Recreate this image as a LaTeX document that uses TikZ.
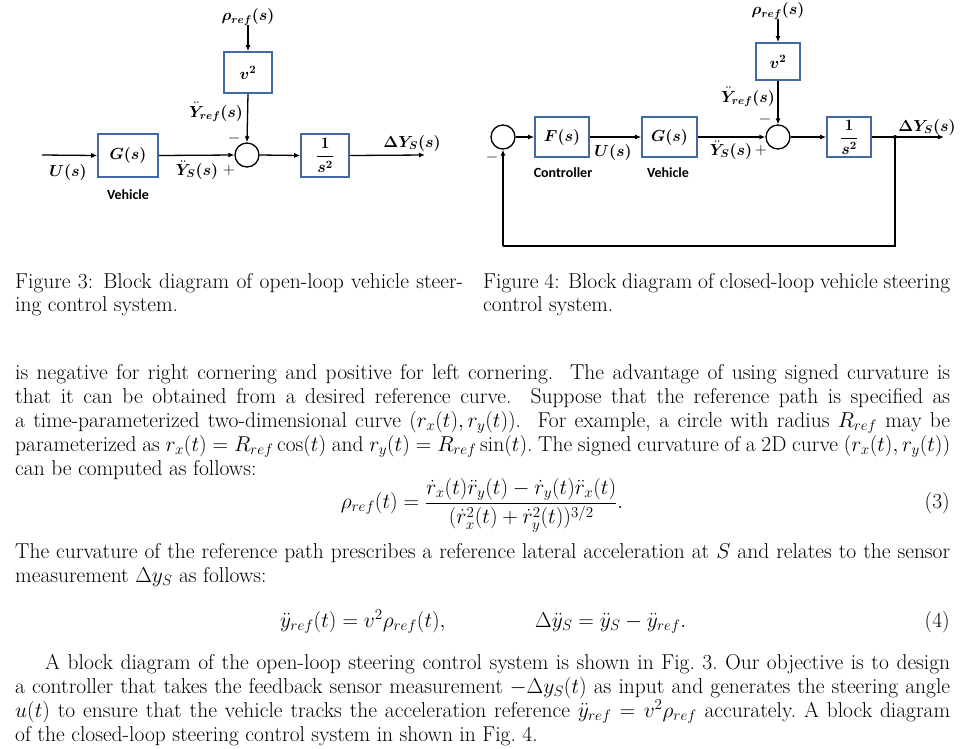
\RequirePackage{fix-cm}
\documentclass[tikz,border=0pt]{standalone}
\usepackage{amsmath,bm}
\usepackage{fontspec}
\newfontfamily\calib{Carlito}
\usetikzlibrary{arrows.meta}
\definecolor{boxblue}{RGB}{68,106,166}
\tikzset{
  blk/.style={draw=boxblue, line width=1.6pt, fill=white, inner sep=0pt, font=\fontsize{16}{18}\selectfont},
  sumc/.style={circle, draw, line width=1.3pt, minimum size=24pt, inner sep=0pt},
  sig/.style={line width=1.3pt, -{Latex[length=6pt,width=5pt]}},
  wire/.style={line width=1.3pt},
  lab/.style={inner sep=0pt, font=\fontsize{16}{18}\selectfont},
  sans/.style={inner sep=0pt, font=\calib\bfseries\fontsize{14}{16}\selectfont},
  txt/.style={anchor=base west, inner sep=0pt, font=\fontsize{21.5}{24}\selectfont},
}
\newcommand{\jl}[1]{\makebox[935pt][s]{#1}}
\begin{document}
\begin{tikzpicture}[x=1pt,y=-1pt]
\useasboundingbox (0,0) rectangle (978,748);
% ---------- left diagram
\node[blk, minimum width=60pt, minimum height=43pt] (G1) at (128,155.5) {$\bm{G(s)}$};
\node[sumc] (S1) at (247,155) {};
\node[blk, minimum width=48pt, minimum height=41pt] (V1) at (248,72.5) {$\bm{v^2}$};
\node[blk, minimum width=48pt, minimum height=43pt] (I1) at (325,155.5) {$\bm{\dfrac{1}{s^2}}$};
\node[lab] (r1) at (248,17) {$\bm{\rho_{ref}(s)}$};
\coordinate (u1) at (42,155);
\coordinate (o1) at (425,155);
\draw[sig] (u1) -- (G1.west);
\draw[sig] (G1.east) -- (S1.west);
\draw[sig] (r1.south) -- (V1.north);
\draw[sig] (V1.south) -- (S1.north);
\draw[sig] (S1.east) -- (I1.west);
\draw[sig] (I1.east) -- (o1);
\node[lab] at (68,172) {$\bm{U(s)}$};
\node[sans] at (128,195) {Vehicle};
\node[lab] at (197,170) {$\bm{\ddot Y_S(s)}$};
\node[lab] at (229,170) {$+$};
\node[lab] at (216,112) {$\bm{\ddot Y_{ref}(s)}$};
\node[lab] at (234,138) {$-$};
\node[lab] at (412,143) {$\bm{\Delta Y_S(s)}$};
% ---------- right diagram
\node[sumc] (S2) at (503,137) {};
\node[blk, minimum width=54pt, minimum height=40pt] (F2) at (562,137) {$\bm{F(s)}$};
\node[blk, minimum width=55pt, minimum height=40pt] (G2) at (669.5,137) {$\bm{G(s)}$};
\node[sumc] (S3) at (778,137) {};
\node[blk, minimum width=44pt, minimum height=37pt] (V2) at (778,61.5) {$\bm{v^2}$};
\node[blk, minimum width=44pt, minimum height=40pt] (I2) at (849,137) {$\bm{\dfrac{1}{s^2}}$};
\node[lab] (r2) at (778,11) {$\bm{\rho_{ref}(s)}$};
\coordinate (b2) at (895,137);
\coordinate (o2) at (944,137);
\coordinate (d2) at (895,246);
\coordinate (e2) at (503,246);
\draw[sig] (S2.east) -- (F2.west);
\draw[sig] (F2.east) -- (G2.west);
\draw[sig] (G2.east) -- (S3.west);
\draw[sig] (r2.south) -- (V2.north);
\draw[sig] (V2.south) -- (S3.north);
\draw[sig] (S3.east) -- (I2.west);
\draw[sig] (I2.east) -- (o2);
\fill (b2) circle (2pt);
\draw[wire] (b2) -- (d2) -- (e2);
\draw[sig] (e2) -- (S2.south);
\node[lab] at (492,157) {$-$};
\node[lab] at (613,152) {$\bm{U(s)}$};
\node[sans] at (563,173) {Controller};
\node[sans] at (668,173) {Vehicle};
\node[lab] at (731,150) {$\bm{\ddot Y_S(s)}$};
\node[lab] at (761,150) {$+$};
\node[lab] at (748,97) {$\bm{\ddot Y_{ref}(s)}$};
\node[lab] at (765,119) {$-$};
\node[lab] at (927,127) {$\bm{\Delta Y_S(s)}$};
% ---------- captions
\node[txt] (c1) at (15,288) {\makebox[448pt][s]{Figure 3: Block diagram of open-loop vehicle steer-}};
\node[txt] (c2) at (15,311) {ing control system.};
\node[txt] (c3) at (483,288) {\makebox[467pt][s]{Figure 4: Block diagram of closed-loop vehicle steering}};
\node[txt] (c4) at (483,311) {control system.};
% ---------- body
\node[txt] (p1) at (15,379) {\jl{is negative for right cornering and positive for left cornering.\ \ The advantage of using signed curvature is}};
\node[txt] (p2) at (15,403) {\jl{that it can be obtained from a desired reference curve.\ \ Suppose that the reference path is specified as}};
\node[txt] (p3) at (15,427) {\jl{a time-parameterized two-dimensional curve $(r_x(t),r_y(t))$.\ \ For example, a circle with radius $R_{ref}$ may be}};
\node[txt] (p4) at (15,451) {\jl{parameterized as $r_x(t)=R_{ref}\cos(t)$ and $r_y(t)=R_{ref}\sin(t)$.\ The signed curvature of a 2D curve $(r_x(t),r_y(t))$}};
\node[txt] (p5) at (15,475) {can be computed as follows:};
\node[inner sep=0pt, font=\fontsize{21.5}{24}\selectfont] (e3) at (482,505) {$\displaystyle \rho_{ref}(t)=\frac{\dot r_x(t)\ddot r_y(t)-\dot r_y(t)\ddot r_x(t)}{(\dot r_x^2(t)+\dot r_y^2(t))^{3/2}}.$};
\node[anchor=east, inner sep=0pt, font=\fontsize{21.5}{24}\selectfont] (n3) at (950,503) {(3)};
\node[txt] (p6) at (15,558) {\jl{The curvature of the reference path prescribes a reference lateral acceleration at $S$ and relates to the sensor}};
\node[txt] (p7) at (15,582) {measurement $\Delta y_S$ as follows:};
\node[txt] (e4a) at (280,627) {$\ddot y_{ref}(t)=v^2\rho_{ref}(t),$};
\node[txt] (e4b) at (535,627) {$\Delta\ddot y_S=\ddot y_S-\ddot y_{ref}.$};
\node[anchor=base east, inner sep=0pt, font=\fontsize{21.5}{24}\selectfont] (n4) at (950,627) {(4)};
\node[txt] (p8) at (45,669) {\makebox[905pt][s]{A block diagram of the open-loop steering control system is shown in Fig.~3.\ Our objective is to design}};
\node[txt] (p9) at (15,693) {\jl{a controller that takes the feedback sensor measurement $-\Delta y_S(t)$ as input and generates the steering angle}};
\node[txt] (p10) at (15,717) {\jl{$u(t)$ to ensure that the vehicle tracks the acceleration reference $\ddot y_{ref}=v^2\rho_{ref}$ accurately.\ A block diagram}};
\node[txt] (p11) at (15,741) {of the closed-loop steering control system in shown in Fig.~4.};
\end{tikzpicture}
\end{document}
